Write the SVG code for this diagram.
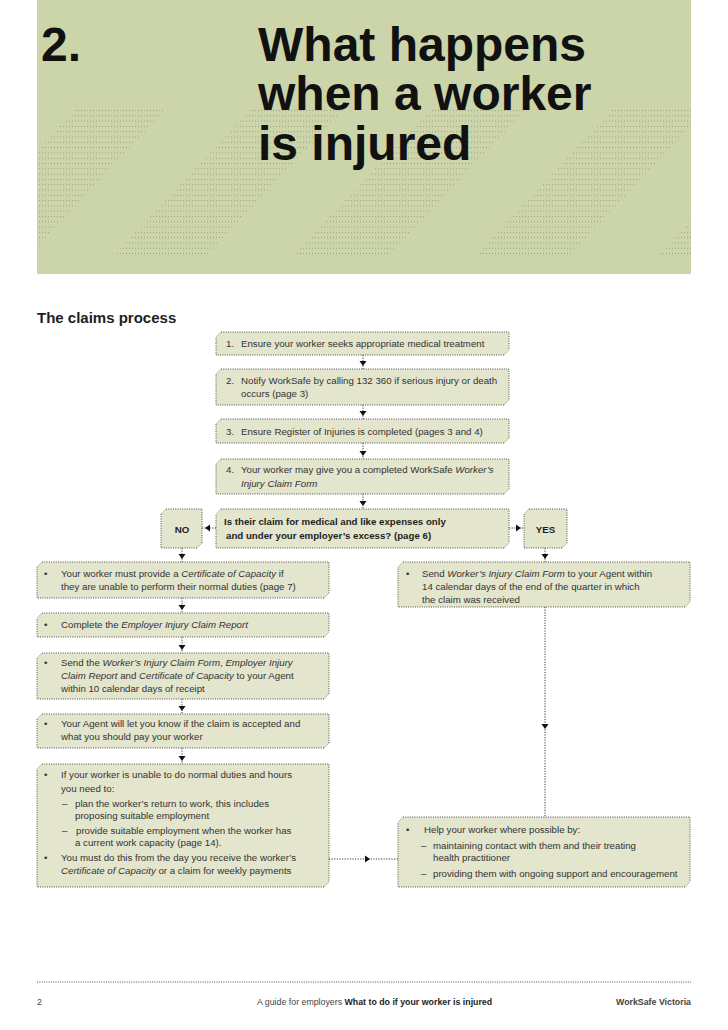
<svg xmlns="http://www.w3.org/2000/svg" xmlns:xlink="http://www.w3.org/1999/xlink" width="728" height="1030" viewBox="0 0 728 1030">
<style>
.t{font-family:"Liberation Sans",Arial,sans-serif;font-size:9.7px;fill:#333}
.b{font-weight:bold;fill:#1e1e1e}
.i{font-style:italic}
.bf{fill:#e3e5cc}
.be{fill:none;stroke:#333;stroke-width:0.85;stroke-dasharray:1 1.3}
.bc{fill:none;stroke:#b4b89c;stroke-width:0.8}
.cn{fill:none;stroke:#222;stroke-width:0.9;stroke-dasharray:1.2 1.4}
.ah{fill:#111}
.title{font-family:"Liberation Sans",Arial,sans-serif;font-weight:bold;font-size:48px;fill:#111}
.ft{font-family:"Liberation Sans",Arial,sans-serif;font-size:8.8px;fill:#444}
</style>
<defs>
<pattern id="dots" x="0" y="110" width="3" height="5.3" patternUnits="userSpaceOnUse">
<rect width="1" height="1" fill="#9ca188"/>
</pattern>
<clipPath id="panel"><rect x="37" y="0" width="654" height="274"/></clipPath>
<path id="ad" class="ah" d="M-3.5,-5 H3.5 L0,0 Z"/>
<path id="al" class="ah" d="M5,-3.5 V3.5 L0,0 Z"/>
<path id="ar" class="ah" d="M-5,-3.5 V3.5 L0,0 Z"/>
</defs>
<rect width="728" height="1030" fill="#fff"/>

<g id="header">
<rect x="37" y="0" width="654" height="274" fill="#ccd4a9"/>
<g clip-path="url(#panel)" fill="url(#dots)">
<polygon points="75,110 165,110 27,257 -63,257"/>
<polygon points="250,110 343,110 205,257 112,257"/>
<polygon points="430,110 525,110 387,257 292,257"/>
<polygon points="612,110 706,110 568,257 474,257"/>
<polygon points="795,110 890,110 752,257 657,257"/>
</g>
<text class="title" x="41" y="61">2.</text>
<text class="title" x="258" y="61">What happens</text>
<text class="title" x="258" y="110">when a worker</text>
<text class="title" x="258" y="160">is injured</text>
</g>

<text id="heading" x="37" y="323" font-family="Liberation Sans, Arial, sans-serif" font-size="15" font-weight="bold" fill="#1e1e1e">The claims process</text>

<g id="connectors">
<path class="cn" d="M363,355 V369 M363,405 V419 M363,443 V459 M363,494 V509 M216,528 H202 M509,528 H524 M182,548 V562 M545,548 V562 M182,598 V613 M182,637 V653 M182,699 V714 M182,748 V764 M545,607 V817 M329,859 H398"/>
<use xlink:href="#ad" x="363" y="366"/>
<use xlink:href="#ad" x="363" y="416"/>
<use xlink:href="#ad" x="363" y="456"/>
<use xlink:href="#ad" x="363" y="506"/>
<use xlink:href="#al" x="205" y="528"/>
<use xlink:href="#ar" x="521" y="528"/>
<use xlink:href="#ad" x="182" y="559"/>
<use xlink:href="#ad" x="545" y="559"/>
<use xlink:href="#ad" x="182" y="610"/>
<use xlink:href="#ad" x="182" y="650"/>
<use xlink:href="#ad" x="182" y="711"/>
<use xlink:href="#ad" x="182" y="761"/>
<use xlink:href="#ad" x="545" y="729"/>
<use xlink:href="#ar" x="370" y="859"/>
</g>

<g id="step1">
<path class="bf" d="M216,337 L221,332 H509 V350 L504,355 H216 Z"/>
<path class="be" d="M221,332 H509 V350 M504,355 H216 V337"/>
<path class="bc" d="M216,337 L221,332 M509,350 L504,355"/>
<text class="t" x="226" y="347">1.</text>
<text class="t" x="241" y="347">Ensure your worker seeks appropriate medical treatment</text>
</g>

<g id="step2">
<path class="bf" d="M216,374 L221,369 H509 V400 L504,405 H216 Z"/>
<path class="be" d="M221,369 H509 V400 M504,405 H216 V374"/>
<path class="bc" d="M216,374 L221,369 M509,400 L504,405"/>
<text class="t" x="226" y="384">2.</text>
<text class="t" x="241" y="384">Notify WorkSafe by calling 132 360 if serious injury or death</text>
<text class="t" x="241" y="397">occurs (page 3)</text>
</g>

<g id="step3">
<path class="bf" d="M216,424 L221,419 H509 V438 L504,443 H216 Z"/>
<path class="be" d="M221,419 H509 V438 M504,443 H216 V424"/>
<path class="bc" d="M216,424 L221,419 M509,438 L504,443"/>
<text class="t" x="226" y="435">3.</text>
<text class="t" x="241" y="435">Ensure Register of Injuries is completed (pages 3 and 4)</text>
</g>

<g id="step4">
<path class="bf" d="M216,464 L221,459 H509 V489 L504,494 H216 Z"/>
<path class="be" d="M221,459 H509 V489 M504,494 H216 V464"/>
<path class="bc" d="M216,464 L221,459 M509,489 L504,494"/>
<text class="t" x="226" y="473">4.</text>
<text class="t" x="241" y="473">Your worker may give you a completed WorkSafe <tspan class="i">Worker’s</tspan></text>
<text class="t i" x="241" y="487">Injury Claim Form</text>
</g>

<g id="decision">
<path class="bf" d="M216,514 L221,509 H509 V543 L504,548 H216 Z"/>
<path class="be" d="M221,509 H509 V543 M504,548 H216 V514"/>
<path class="bc" d="M216,514 L221,509 M509,543 L504,548"/>
<text class="t b" x="224" y="525">Is their claim for medical and like expenses only</text>
<text class="t b" x="226" y="539">and under your employer’s excess? (page 6)</text>
</g>

<g id="no">
<path class="bf" d="M161,514 L166,509 H202 V543 L197,548 H161 Z"/>
<path class="be" d="M166,509 H202 V543 M197,548 H161 V514"/>
<path class="bc" d="M161,514 L166,509 M202,543 L197,548"/>
<text class="t b" x="182" y="533" text-anchor="middle">NO</text>
</g>

<g id="yes">
<path class="bf" d="M524,514 L529,509 H567 V543 L562,548 H524 Z"/>
<path class="be" d="M529,509 H567 V543 M562,548 H524 V514"/>
<path class="bc" d="M524,514 L529,509 M567,543 L562,548"/>
<text class="t b" x="545.5" y="533" text-anchor="middle">YES</text>
</g>

<g id="left1">
<path class="bf" d="M37,567 L42,562 H329 V593 L324,598 H37 Z"/>
<path class="be" d="M42,562 H329 V593 M324,598 H37 V567"/>
<path class="bc" d="M37,567 L42,562 M329,593 L324,598"/>
<text class="t" x="44" y="577">•</text>
<text class="t" x="61" y="577">Your worker must provide a <tspan class="i">Certificate of Capacity</tspan> if</text>
<text class="t" x="61" y="590">they are unable to perform their normal duties (page 7)</text>
</g>

<g id="left2">
<path class="bf" d="M37,618 L42,613 H329 V632 L324,637 H37 Z"/>
<path class="be" d="M42,613 H329 V632 M324,637 H37 V618"/>
<path class="bc" d="M37,618 L42,613 M329,632 L324,637"/>
<text class="t" x="44" y="628">•</text>
<text class="t" x="61" y="628">Complete the <tspan class="i">Employer Injury Claim Report</tspan></text>
</g>

<g id="left3">
<path class="bf" d="M37,658 L42,653 H329 V694 L324,699 H37 Z"/>
<path class="be" d="M42,653 H329 V694 M324,699 H37 V658"/>
<path class="bc" d="M37,658 L42,653 M329,694 L324,699"/>
<text class="t" x="44" y="666">•</text>
<text class="t" x="61" y="666">Send the <tspan class="i">Worker’s Injury Claim Form</tspan>, <tspan class="i">Employer Injury</tspan></text>
<text class="t" x="61" y="679"><tspan class="i">Claim Report</tspan> and <tspan class="i">Certificate of Capacity</tspan> to your Agent</text>
<text class="t" x="61" y="692">within 10 calendar days of receipt</text>
</g>

<g id="left4">
<path class="bf" d="M37,719 L42,714 H329 V743 L324,748 H37 Z"/>
<path class="be" d="M42,714 H329 V743 M324,748 H37 V719"/>
<path class="bc" d="M37,719 L42,714 M329,743 L324,748"/>
<text class="t" x="44" y="727">•</text>
<text class="t" x="61" y="727">Your Agent will let you know if the claim is accepted and</text>
<text class="t" x="61" y="740">what you should pay your worker</text>
</g>

<g id="left5">
<path class="bf" d="M37,769 L42,764 H329 V882 L324,887 H37 Z"/>
<path class="be" d="M42,764 H329 V882 M324,887 H37 V769"/>
<path class="bc" d="M37,769 L42,764 M329,882 L324,887"/>
<text class="t" x="44" y="778">•</text>
<text class="t" x="61" y="778">If your worker is unable to do normal duties and hours</text>
<text class="t" x="61" y="792">you need to:</text>
<text class="t" x="62" y="807">–</text>
<text class="t" x="75" y="807">plan the worker’s return to work, this includes</text>
<text class="t" x="75" y="819">proposing suitable employment</text>
<text class="t" x="62" y="834">–</text>
<text class="t" x="76" y="834">provide suitable employment when the worker has</text>
<text class="t" x="75" y="846">a current work capacity (page 14).</text>
<text class="t" x="44" y="861">•</text>
<text class="t" x="61" y="861">You must do this from the day you receive the worker’s</text>
<text class="t" x="61" y="874"><tspan class="i">Certificate of Capacity</tspan> or a claim for weekly payments</text>
</g>

<g id="right1">
<path class="bf" d="M398,567 L403,562 H690 V602 L685,607 H398 Z"/>
<path class="be" d="M403,562 H690 V602 M685,607 H398 V567"/>
<path class="bc" d="M398,567 L403,562 M690,602 L685,607"/>
<text class="t" x="406" y="577">•</text>
<text class="t" x="422" y="577">Send <tspan class="i">Worker’s Injury Claim Form</tspan> to your Agent within</text>
<text class="t" x="422" y="590">14 calendar days of the end of the quarter in which</text>
<text class="t" x="422" y="603">the claim was received</text>
</g>

<g id="right2">
<path class="bf" d="M398,822 L403,817 H690 V882 L685,887 H398 Z"/>
<path class="be" d="M403,817 H690 V882 M685,887 H398 V822"/>
<path class="bc" d="M398,822 L403,817 M690,882 L685,887"/>
<text class="t" x="406" y="833">•</text>
<text class="t" x="424" y="833">Help your worker where possible by:</text>
<text class="t" x="421" y="849">–</text>
<text class="t" x="433" y="849">maintaining contact with them and their treating</text>
<text class="t" x="433" y="861">health practitioner</text>
<text class="t" x="421" y="877">–</text>
<text class="t" x="433" y="877">providing them with ongoing support and encouragement</text>
</g>

<g id="footer">
<path d="M37,982 H691" fill="none" stroke="#333" stroke-width="0.85" stroke-dasharray="1 1.3"/>
<text class="ft" x="37" y="1005">2</text>
<text class="ft" x="257" y="1005">A guide for employers <tspan font-weight="bold" fill="#1e1e1e">What to do if your worker is injured</tspan></text>
<text class="ft" x="691" y="1005" text-anchor="end" font-weight="bold" fill="#1e1e1e">WorkSafe Victoria</text>
</g>
</svg>
